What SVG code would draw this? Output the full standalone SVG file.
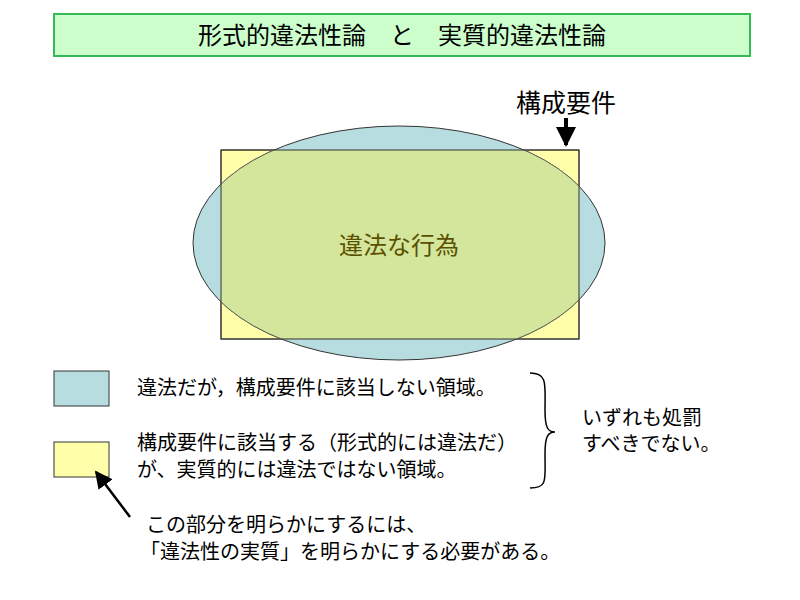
<svg xmlns="http://www.w3.org/2000/svg" width="800" height="600" viewBox="0 0 800 600">
<style>
text{font-family:"Liberation Sans","Noto Sans CJK JP",sans-serif;fill:#000}
.t{font-size:20px}
.s{stroke:#333;stroke-width:1}
</style>
<defs>
<clipPath id="cr"><rect x="221" y="150" width="358" height="189"/></clipPath>
<marker id="ah" viewBox="0 0 10 10" refX="9" refY="5" markerWidth="5" markerHeight="5" orient="auto"><path d="M0,0L10,5L0,10z" fill="#000"/></marker>
<marker id="ah2" viewBox="0 0 10 10" refX="9" refY="5" markerWidth="7" markerHeight="7" orient="auto"><path d="M0,0L10,5L0,10z" fill="#000"/></marker>
</defs>
<rect width="800" height="600" fill="#fff"/>
<g id="title">
<rect x="54" y="14" width="696" height="42" fill="#ccffcc" stroke="#33bb55" stroke-width="2"/>
<text x="402" y="44" text-anchor="middle" font-size="24">形式的違法性論　と　実質的違法性論</text>
</g>
<g id="venn">
<rect x="221" y="150" width="358" height="189" fill="#ffffaa" class="s"/>
<ellipse cx="399" cy="243" rx="206" ry="117" fill="#b7dde0" class="s"/>
<ellipse cx="399" cy="243" rx="206" ry="117" fill="#d3e69b" clip-path="url(#cr)"/>
<rect x="221" y="150" width="358" height="189" fill="none" class="s"/>
<ellipse cx="399" cy="243" rx="206" ry="117" fill="none" stroke="#555" stroke-width="0.8" clip-path="url(#cr)"/>
<text x="399" y="254" text-anchor="middle" font-size="24" style="fill:#5a5000">違法な行為</text>
</g>
<g id="kosei">
<text x="566" y="112" text-anchor="middle" font-size="25">構成要件</text>
</g>
<g id="legend-blue">
<rect x="54" y="371" width="55" height="35" fill="#b7dde0" class="s"/>
<text x="137" y="395" class="t">違法だが，構成要件に該当しない領域。</text>
</g>
<g id="legend-yellow">
<rect x="54" y="442" width="55" height="35" fill="#ffffaa" class="s"/>
<text x="137" y="450" class="t">構成要件に該当する（形式的には違法だ）</text>
<text x="137" y="477" class="t">が、実質的には違法ではない領域。</text>
</g>
<g id="conclusion">
<text x="582" y="425" class="t">いずれも処罰</text>
<text x="582" y="451" class="t">すべきでない。</text>
</g>
<g id="note">
<text x="146" y="532" class="t">この部分を明らかにするには、</text>
<text x="140" y="559" class="t">「違法性の実質」を明らかにする必要がある。</text>
</g>
<g id="connectors">
<line x1="566" y1="118" x2="566" y2="145" stroke="#000" stroke-width="4" marker-end="url(#ah)"/>
<line x1="130" y1="517" x2="96" y2="472" stroke="#000" stroke-width="2.5" marker-end="url(#ah2)"/>
<path d="M530,373 C548,373 545,385 545,410 C545,428 548,432 555,432 C548,432 545,436 545,454 C545,480 548,488 530,488" fill="none" stroke="#000" stroke-width="1.5"/>
</g>
</svg>
